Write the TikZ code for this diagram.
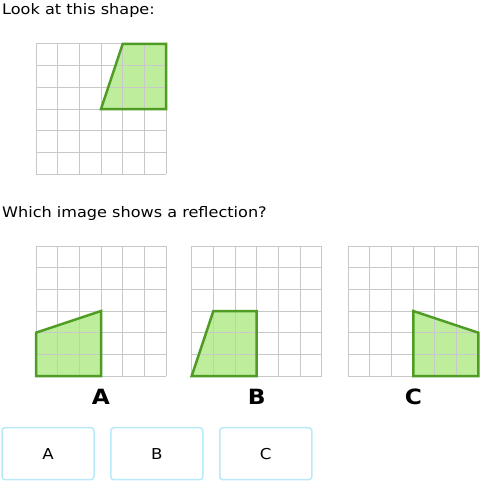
\documentclass[tikz,border=0pt]{standalone}
\usepackage{fontspec}
\setmainfont{DejaVu Sans}[FakeStretch=1.11]
\definecolor{gridgray}{RGB}{200,200,200}
\definecolor{shapegreen}{RGB}{190,237,155}
\definecolor{edgegreen}{RGB}{78,156,36}
\definecolor{boxcyan}{RGB}{184,234,248}
\tikzset{
  gridline/.style={draw=gridgray, line width=1pt},
  shapefill/.style={fill=shapegreen},
  shapeedge/.style={draw=edgegreen, line width=2.5pt, line join=miter},
  question/.style={anchor=base west, inner sep=0pt, font=\fontsize{14.5}{17}\selectfont},
  bigletter/.style={anchor=base, inner sep=0pt, font=\fontsize{21}{24}\selectfont\bfseries},
  answerbox/.style={draw=boxcyan, line width=1.5pt, rounded corners=3pt, fill=white,
    minimum width=92pt, minimum height=52pt, inner sep=0pt, font=\fontsize{15}{17}\selectfont}
}
% one 6x6 grid, lower left corner at the current origin
\newcommand{\squaregrid}{%
  \foreach \i in {0,...,6}
  {
  \draw [gridline] (\i,0) -- (\i,6);
  \draw [gridline] (0,\i) -- (6,\i);
  }
}
% green shape: fill, grid on top, then the outline
\newcommand{\greenshape}[1]{%
  \fill [shapefill] #1 -- cycle;
  \squaregrid
  \draw [shapeedge] #1 -- cycle;
}
\begin{document}
\begin{tikzpicture}[x=1pt,y=-1pt]
\useasboundingbox (0,0) rectangle (480,482);

% Texts
\node [question] (look) at (2,14) {Look at this shape:};
\node [question] (which) at (2,217) {Which image shows a reflection?};

% Given shape
\begin{scope}[xshift=36pt, yshift=-174pt, x=21.667pt, y=21.667pt]
\greenshape{(3,3) -- (4,6) -- (6,6) -- (6,3)}
\end{scope}

% Image A
\begin{scope}[xshift=36pt, yshift=-376pt, x=21.667pt, y=21.667pt]
\greenshape{(0,0) -- (0,2) -- (3,3) -- (3,0)}
\end{scope}

% Image B
\begin{scope}[xshift=191.7pt, yshift=-376pt, x=21.667pt, y=21.667pt]
\greenshape{(0,0) -- (1,3) -- (3,3) -- (3,0)}
\end{scope}

% Image C
\begin{scope}[xshift=348.3pt, yshift=-376pt, x=21.667pt, y=21.667pt]
\greenshape{(3,0) -- (3,3) -- (6,2) -- (6,0)}
\end{scope}

% Letters under the images
\node [bigletter] (imgA) at (101,404) {A};
\node [bigletter] (imgB) at (256.7,404) {B};
\node [bigletter] (imgC) at (413.3,404) {C};

% Answer buttons
\node [answerbox] (btnA) at (48,453.7) {A};
\node [answerbox] (btnB) at (156.8,453.7) {B};
\node [answerbox] (btnC) at (265.8,453.7) {C};

\end{tikzpicture}
\end{document}
